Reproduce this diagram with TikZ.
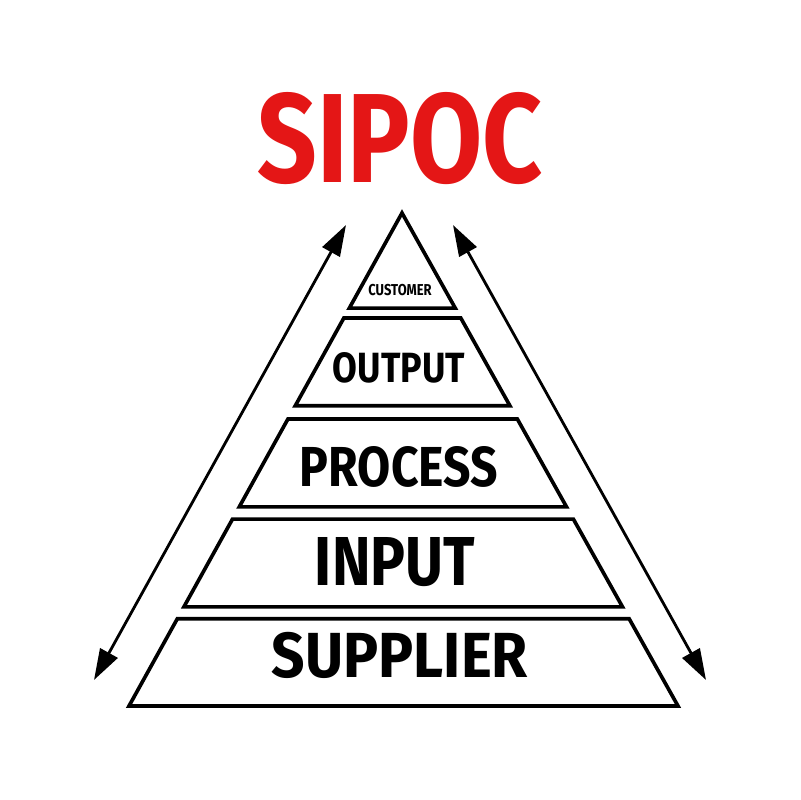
\documentclass[tikz,border=0pt]{standalone}
\usepackage{fontspec}
\setmainfont{Fira Sans}
\usetikzlibrary{calc,arrows.meta}
\definecolor{sipocred}{RGB}{228,22,22}
\newcommand{\fitword}[3]{\resizebox{#1}{#2}{\bfseries #3}}

\begin{document}
\begin{tikzpicture}[x=0.025cm,y=-0.025cm]
		%%%%% START %%%%%
		\useasboundingbox (0,0) rectangle (800,800);
		
		\node[text=sipocred, inner sep=0] (title) at (400,139) {\fitword{7.13cm}{2.25cm}{SIPOC}};
		
		\coordinate (apex) at (402,213);
		\coordinate (bl) at (129,706);
		\coordinate (br) at (678,706);
		
		\draw[line width=2.6pt] (apex) -- ($(apex)!0.193!(bl)$) -- ($(apex)!0.193!(br)$) -- cycle;
		\foreach \t/\b in {0.213/0.391, 0.418/0.596, 0.621/0.799, 0.823/1}
		\draw[line width=2.6pt] ($(apex)!\t!(bl)$) -- ($(apex)!\t!(br)$) -- ($(apex)!\b!(br)$) -- ($(apex)!\b!(bl)$) -- cycle;
		
		\node[inner sep=0] (customer) at (400,290) {\fitword{1.58cm}{0.28cm}{CUSTOMER}};
		\node[inner sep=0] (output) at (399,368) {\fitword{3.3cm}{0.75cm}{OUTPUT}};
		\node[inner sep=0] (process) at (399,467) {\fitword{4.95cm}{1.0cm}{PROCESS}};
		\node[inner sep=0] (input) at (395,562) {\fitword{4.0cm}{1.2cm}{INPUT}};
		\node[inner sep=0] (supplier) at (400,655) {\fitword{6.4cm}{1.13cm}{SUPPLIER}};
		
		\coordinate (lt) at (346,225);
		\coordinate (lb) at (94,680);
		\coordinate (rt) at (453,225);
		\coordinate (rb) at (706,680);
		\draw[line width=2pt, {Triangle[length=22pt,width=14pt]}-{Triangle[length=22pt,width=14pt]}] (lt) -- (lb);
		\draw[line width=2pt, {Triangle[length=22pt,width=14pt]}-{Triangle[length=22pt,width=14pt]}] (rt) -- (rb);
		
		%%%%% END %%%%%
\end{tikzpicture}
\end{document}
